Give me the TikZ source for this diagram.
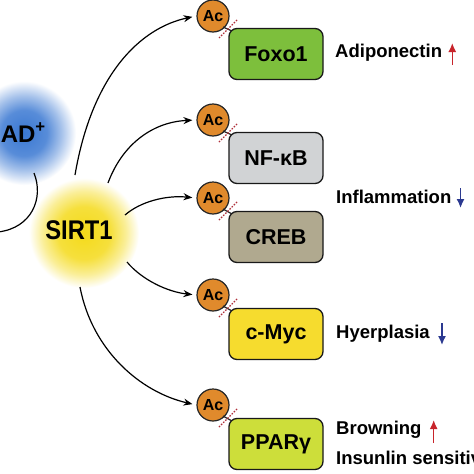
\documentclass[tikz,border=0pt]{standalone}
\usepackage{fontspec}
\setmainfont{Liberation Sans}
\usetikzlibrary{arrows.meta,calc}
\definecolor{nadblue}{HTML}{3A78D2}
\definecolor{sirtyellow}{HTML}{F4DA1A}
\definecolor{acorange}{HTML}{E08A2C}
\definecolor{foxo}{HTML}{7DBF3C}
\definecolor{nfkb}{HTML}{D1D3D5}
\definecolor{creb}{HTML}{B0A98F}
\definecolor{cmyc}{HTML}{F6DC2E}
\definecolor{ppar}{HTML}{CDDE3A}
\definecolor{upred}{HTML}{C8242B}
\definecolor{downblue}{HTML}{2B3990}
\definecolor{dotred}{HTML}{B0303A}
\pgfdeclareradialshading{nadglow}{\pgfpoint{0bp}{0bp}}{color(0bp)=(nadblue); color(11bp)=(nadblue!85!white); color(18bp)=(nadblue!45!white); color(25bp)=(white); color(50bp)=(white)}
\pgfdeclareradialshading{sirtglow}{\pgfpoint{0bp}{0bp}}{color(0bp)=(sirtyellow); color(12bp)=(sirtyellow!85!white); color(19bp)=(sirtyellow!45!white); color(25bp)=(white); color(50bp)=(white)}
\tikzset{
  acnode/.style={circle, draw=black!85, fill=acorange, line width=1.2pt, minimum size=32pt, inner sep=0pt, font=\bfseries\fontsize{16}{16}\selectfont},
  protbox/.style={rounded corners=8pt, draw=black!90, line width=1.3pt, minimum width=94pt, minimum height=51pt, inner sep=0pt, font=\bfseries\fontsize{21.5}{21.5}\selectfont},
  lab/.style={anchor=west, inner sep=0pt, font=\bfseries\fontsize{18.5}{18.5}\selectfont},
  act/.style={line width=1.2pt, -{Stealth[length=9pt,width=7pt]}, shorten >=4pt},
  link/.style={line width=1.2pt, black!85},
  redcut/.style={dotred, line width=1.1pt, dash pattern=on 1.5pt off 1.5pt},
  uparr/.style={upred, line width=1.5pt, -{Latex[length=9pt,width=8pt]}},
  downarr/.style={downblue, line width=1.5pt, -{Latex[length=9pt,width=8pt]}},
}
\begin{document}
\begin{tikzpicture}[x=1pt,y=-1pt]
\useasboundingbox (0,0) rectangle (474,474);
\clip (0,0) rectangle (474,474);
\fill[white] (0,0) rectangle (474,474);
% glows
\shade[shading=nadglow] (24,133) circle (52);
\shade[shading=sirtglow] (84,233) circle (55);
\node[font=\bfseries\fontsize{24}{24}\selectfont, anchor=base east, inner sep=0pt] (nad) at (46,142) {NAD\textsuperscript{+}};
\node[font=\bfseries\fontsize{27}{27}\selectfont, inner sep=0pt, xscale=0.88] (sirt) at (79,230) {SIRT1};
% NAD cycle arc
\coordinate (arcA) at (34,173);
\coordinate (arcB) at (-2,232);
\draw[line width=1.2pt] (arcA) .. controls (44,198) and (32,228) .. (arcB);
% Ac groups
\node[acnode] (ac1) at (213,16) {Ac};
\node[acnode] (ac2) at (213,120) {Ac};
\node[acnode] (ac3) at (213,198) {Ac};
\node[acnode] (ac4) at (213,295) {Ac};
\node[acnode] (ac5) at (213,405) {Ac};
% boxes (positions)
\path (276,54) coordinate (p1) (276,158) coordinate (p2) (276,237) coordinate (p3) (276,334) coordinate (p4) (276,444) coordinate (p5);
\foreach \i in {1,...,5}{
  \draw[link] ($(ac\i)+(10,11)$) -- ($(p\i)+(-44,-23)$);
  \draw[redcut] ($(ac\i)+(6,22)$) -- ($(ac\i)+(25,3)$);
}
\node[protbox, fill=foxo] (b1) at (p1) {Foxo1};
\node[protbox, fill=nfkb] (b2) at (p2) {NF-κB};
\node[protbox, fill=creb] (b3) at (p3) {CREB};
\node[protbox, fill=cmyc] (b4) at (p4) {c-Myc};
\node[protbox, fill=ppar] (b5) at (p5) {PPARγ};
% arrows from SIRT1
\coordinate (s1) at (75,175);
\coordinate (s2) at (108,183);
\coordinate (s3) at (125,215);
\coordinate (s4) at (127,262);
\coordinate (s5) at (80,287);
\draw[act] (s1) .. controls (92,75) and (140,28) .. (ac1.west);
\draw[act] (s2) .. controls (122,145) and (152,122) .. (ac2.west);
\draw[act] (s3) .. controls (140,202) and (165,195) .. (ac3.west);
\draw[act] (s4) .. controls (142,280) and (168,292) .. (ac4.west);
\draw[act] (s5) .. controls (92,350) and (140,392) .. (ac5.west);
% labels
\node[lab] (l1) at (335,53) {Adiponectin};
\node[lab] (l2) at (336,197) {Inflammation};
\node[lab] (l3) at (336,334) {Hyerplasia};
\node[lab] (l4) at (336,430) {Browning};
\node[lab] (l5) at (336,460) {Insunlin sensitivity};
\draw[uparr] ($(l1.east)+(10,12)$) -- ($(l1.east)+(10,-10)$);
\draw[downarr] ($(l2.east)+(9,-9)$) -- ($(l2.east)+(9,11)$);
\draw[downarr] ($(l3.east)+(12,-11)$) -- ($(l3.east)+(12,11)$);
\draw[uparr] ($(l4.east)+(12,13)$) -- ($(l4.east)+(12,-10)$);
\end{tikzpicture}
\end{document}
